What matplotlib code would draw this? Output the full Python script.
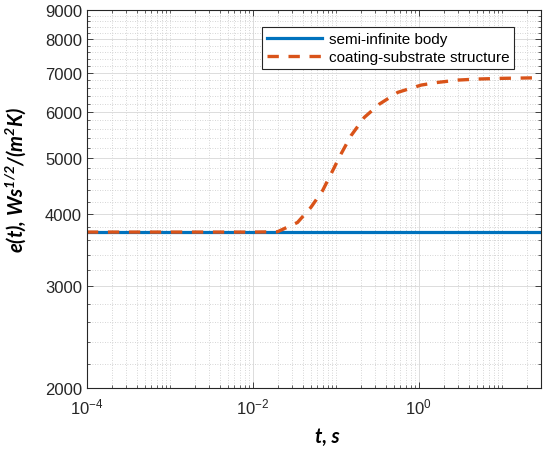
import numpy as np
import matplotlib
matplotlib.use('Agg')
import matplotlib.pyplot as plt
from matplotlib.ticker import FixedLocator, NullFormatter

plt.rcParams['font.family'] = ['Liberation Sans', 'DejaVu Sans']
plt.rcParams['mathtext.fontset'] = 'custom'
plt.rcParams['mathtext.rm'] = 'Liberation Sans'
plt.rcParams['mathtext.default'] = 'regular'

# data
t_semi = [1e-4, 30]
e_semi = [3720, 3720]

t_coat = [1e-4, 1e-3, 0.01, 0.0198, 0.0346, 0.0501, 0.0693, 0.0916, 0.1156, 0.1527,
          0.2213, 0.3365, 0.561, 1.074, 1.713, 2.99, 5.22, 10.0, 30.0]
e_coat = [3720, 3720, 3720, 3724, 3865, 4103, 4384, 4746, 5072, 5456,
          5870, 6188, 6484, 6674, 6746, 6808, 6836, 6854, 6871]

y_ticks = [2000, 3000, 4000, 5000, 6000, 7000, 8000, 9000]
x_ticks = [1e-4, 1e-2, 1e0]
x_ticklabels = ['$10^{-4}$', '$10^{-2}$', '$10^{0}$']

blue = '#0072BD'
orange = '#D95319'
frame = '#262626'

fig = plt.figure(figsize=(5.5, 4.52), dpi=100)
ax = fig.add_axes([0.158, 0.139, 0.826, 0.837])

ax.plot(t_semi, e_semi, color=blue, lw=2.3, label='semi-infinite body')
ax.plot(t_coat, e_coat, color=orange, lw=2.4, dashes=(3.4, 2.9),
        label='coating-substrate structure')

ax.set_xscale('log')
ax.set_yscale('log')
ax.set_xlim(1e-4, 30)
ax.set_ylim(2000, 9000)

ax.xaxis.set_major_locator(FixedLocator(x_ticks))
ax.set_xticklabels(x_ticklabels)
x_minor = [m * 10.0 ** k for k in range(-4, 2) for m in range(1, 10)
           if not (m == 1 and k in (-4, -2, 0))]
ax.xaxis.set_minor_locator(FixedLocator(x_minor))
ax.xaxis.set_minor_formatter(NullFormatter())

ax.yaxis.set_major_locator(FixedLocator(y_ticks))
ax.set_yticklabels([str(v) for v in y_ticks])
y_minor = [v for v in range(2000, 9001, 200) if v % 1000 != 0]
ax.yaxis.set_minor_locator(FixedLocator(y_minor))
ax.yaxis.set_minor_formatter(NullFormatter())

ax.tick_params(which='both', direction='in', top=True, right=True,
               color=frame, labelsize=12, labelcolor='#262626')
ax.tick_params(which='major', length=4, width=0.6)
ax.tick_params(which='minor', length=2.2, width=0.5)
ax.tick_params(axis='x', pad=6)

ax.grid(which='major', color='#dcdcdc', lw=0.7, ls='-')
ax.grid(which='minor', color='#c8c8c8', lw=0.6, ls=(0, (1, 2)))
ax.set_axisbelow(True)
for s in ax.spines.values():
    s.set_color(frame)
    s.set_linewidth(0.8)

ax.set_xlabel('t, s', fontsize=14.5, fontweight='bold', style='italic',
              family=['Lato', 'DejaVu Sans'])
ax.xaxis.set_label_coords(0.529, -0.10)
ax.set_ylabel('e(t), Ws$^{1/2}$/(m$^{2}$K)', fontsize=14.5, fontweight='bold',
              style='italic', family=['Lato', 'DejaVu Sans'])
ax.yaxis.set_label_coords(-0.13, 0.553)

leg = ax.legend(loc='upper right', bbox_to_anchor=(0.958, 0.975), fontsize=11,
                handlelength=3.6, handletextpad=0.4, borderpad=0.35,
                labelspacing=0.25, fancybox=False, framealpha=1)
leg.get_frame().set_edgecolor(frame)
leg.get_frame().set_linewidth(0.8)

fig.savefig('out.png', dpi=100)
